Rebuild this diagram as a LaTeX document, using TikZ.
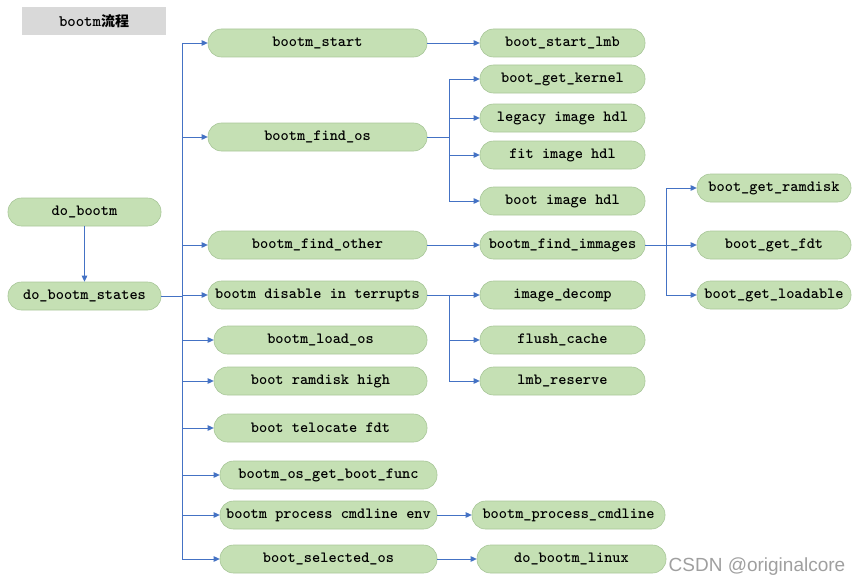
\documentclass[tikz,border=0pt]{standalone}
\usepackage{fontspec}
\newfontfamily\cjkfont{Noto Sans CJK SC}
\newfontfamily\wmfont{Liberation Sans}
\usetikzlibrary{arrows.meta}
\definecolor{boxfill}{HTML}{C5E0B4}
\definecolor{boxline}{HTML}{A9C79A}
\definecolor{linkblue}{HTML}{4472C4}
\definecolor{titlegray}{HTML}{D9D9D9}
\tikzset{
  box/.style={draw=boxline, line width=0.6pt, fill=boxfill, rounded corners=13.5pt,
    minimum height=28pt, inner sep=0pt, font=\ttfamily\bfseries\fontsize{15.6}{17}\selectfont},
  link/.style={draw=linkblue, line width=0.9pt},
  arr/.style={link, -{Triangle[length=6pt,width=5.5pt]}}
}
\begin{document}
\begin{tikzpicture}[x=1pt,y=-1pt]
\useasboundingbox (0,0) rectangle (862,586);
% title
\node[fill=titlegray, minimum width=144pt, minimum height=28pt, inner sep=0pt,
  font=\ttfamily\bfseries\fontsize{16}{17}\selectfont] (title) at (94,21) {bootm{\cjkfont\bfseries\fontsize{14}{15}\selectfont 流程}};
% left column
\node[box, minimum width=153pt] (db) at (84.5,212) {do\_bootm};
\node[box, minimum width=153pt] (dbs) at (84.5,296) {do\_bootm\_states};
% second column
\node[box, minimum width=219pt] (bst) at (317.5,43) {bootm\_start};
\node[box, minimum width=219pt] (bfo) at (317.5,137) {bootm\_find\_os};
\node[box, minimum width=219pt] (bfx) at (317.5,245) {bootm\_find\_other};
\node[box, minimum width=219pt] (bdi) at (317.5,295) {bootm disable in terrupts};
\node[box, minimum width=213pt] (blo) at (320.5,340) {bootm\_load\_os};
\node[box, minimum width=213pt] (brh) at (320.5,381) {boot ramdisk high};
\node[box, minimum width=213pt] (btf) at (320.5,428) {boot telocate fdt};
\node[box, minimum width=217pt] (bog) at (328.5,475) {bootm\_os\_get\_boot\_func};
\node[box, minimum width=217pt] (bpe) at (328.5,515) {bootm process cmdline env};
\node[box, minimum width=217pt] (bso) at (328.5,559) {boot\_selected\_os};
% third column
\node[box, minimum width=165pt] (bsl) at (562.5,43) {boot\_start\_lmb};
\node[box, minimum width=165pt] (bgk) at (562.5,79) {boot\_get\_kernel};
\node[box, minimum width=165pt] (lih) at (562.5,118) {legacy image hdl};
\node[box, minimum width=165pt] (fih) at (562.5,155) {fit image hdl};
\node[box, minimum width=165pt] (bih) at (562.5,201) {boot image hdl};
\node[box, minimum width=165pt] (bfi) at (562.5,245) {bootm\_find\_immages};
\node[box, minimum width=165pt] (idc) at (562.5,295) {image\_decomp};
\node[box, minimum width=165pt] (fc) at (562.5,340) {flush\_cache};
\node[box, minimum width=165pt] (lr) at (562.5,381) {lmb\_reserve};
\node[box, minimum width=193pt] (bpc) at (568.5,515) {bootm\_process\_cmdline};
\node[box, minimum width=189pt] (dbl) at (571.5,559) {do\_bootm\_linux};
% fourth column
\node[box, minimum width=154pt] (bgr) at (774,188) {boot\_get\_ramdisk};
\node[box, minimum width=154pt] (bgf) at (774,245) {boot\_get\_fdt};
\node[box, minimum width=154pt] (bgl) at (774,295) {boot\_get\_loadable};
% watermark
\node[font=\wmfont\fontsize{19}{21}\selectfont, text=gray!75, anchor=center] (wm) at (757,567) {CSDN @originalcore};
% bus coordinates
\coordinate (busA) at (182,0);
\coordinate (busB) at (449,0);
\coordinate (busC) at (449,0);
\coordinate (busD) at (666,0);
% connectors
\draw[arr] (db) -- (dbs);
\draw[link] (dbs.east) -- (busA |- dbs.east);
\draw[link] (busA |- bst.west) -- (busA |- bso.west);
\foreach \n in {bst,bfo,bfx,bdi,blo,brh,btf,bog,bpe,bso}
  \draw[arr] (busA |- \n.west) -- (\n.west);
\draw[arr] (bst) -- (bsl);
% find_os
\draw[link] (bfo.east) -- (busB |- bfo.east);
\draw[link] (busB |- bgk.west) -- (busB |- bih.west);
\foreach \n in {bgk,lih,fih,bih}
  \draw[arr] (busB |- \n.west) -- (\n.west);
% find_other
\draw[arr] (bfx) -- (bfi);
\draw[link] (bfi.east) -- (busD |- bfi.east);
\draw[link] (busD |- bgr.west) -- (busD |- bgl.west);
\foreach \n in {bgr,bgf,bgl}
  \draw[arr] (busD |- \n.west) -- (\n.west);
% disable interrupts
\draw[link] (busC |- idc.west) -- (busC |- lr.west);
\draw[arr] (bdi.east) -- (idc.west);
\foreach \n in {fc,lr}
  \draw[arr] (busC |- \n.west) -- (\n.west);
% bottom
\draw[arr] (bpe) -- (bpc);
\draw[arr] (bso) -- (dbl);
\end{tikzpicture}
\end{document}
